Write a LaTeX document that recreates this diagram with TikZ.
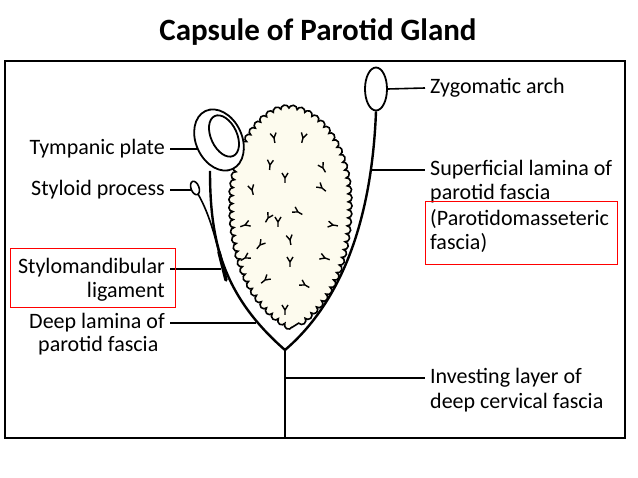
\documentclass[tikz,border=0pt]{standalone}
\usepackage{fontspec}
\setmainfont{Carlito}
\usetikzlibrary{decorations.pathmorphing,shapes.geometric}
\begin{document}
\begin{tikzpicture}[x=1pt,y=-1pt,
  lab/.style={font=\fontsize{22}{26}\selectfont,inner sep=0pt},
  lead/.style={line width=1.6pt},
  memb/.style={line width=2.4pt},
  ym/.style={line width=1.4pt}]
\useasboundingbox (0,0) rectangle (638,478);
\node[font=\bfseries\fontsize{31}{34}\selectfont] (title) at (318,32) {Capsule of Parotid Gland};
\draw[line width=2pt] (5,61) rectangle (625,438);
% gland
\draw[line width=1.6pt,fill={rgb,255:red,253;green,251;blue,238},decoration={bumps,segment length=16pt,amplitude=4pt},decorate]
 (292,327) .. controls (250,305) and (231,255) .. (233,195)
 .. controls (236,145) and (262,110) .. (288,109)
 .. controls (318,110) and (347,145) .. (348,200)
 .. controls (349,258) and (330,305) .. (292,327);
% tympanic
\draw[line width=1.8pt,fill=white,rotate around={25:(219,140)}] (219,140) ellipse (23 and 32);
\draw[line width=1.8pt,rotate around={25:(224,136)}] (224,136) ellipse (13 and 22);
% Y marks
\foreach \x/\y/\a in {274/138/10,303/138/-15,270/165/-5,323/168/30,285/178/0,252/190/15,322/188/50,268/218/-30,298/212/60,333/225/80,260/245/-40,290/240/10,245/258/-60,290/262/0,325/258/70,265/280/-50,305/285/60,285/310/0,245/225/-70,278/222/0}{
  \begin{scope}[shift={(\x,\y)},rotate=\a]
   \draw[ym] (0,5) -- (0,0) -- (-3,-5) (0,0) -- (3,-5);
  \end{scope}}
% zygomatic
\node[draw,line width=1.8pt,ellipse,minimum width=22pt,minimum height=43pt,inner sep=0pt,fill=white] (zyg) at (376,89) {};
\coordinate (jn) at (285,350);
\draw[memb] (zyg.south) .. controls (373,190) and (355,290) .. (jn);
\draw[memb] (jn) -- (285,437);
% styloid
\draw[line width=1.6pt,rotate around={20:(195,188)}] (195,188) ellipse (4 and 7);
% deep lamina
\draw[memb] (210,171) .. controls (210,240) and (222,295) .. (jn);
\draw[line width=1.6pt] (198,194) .. controls (210,215) and (216,240) .. (221,262);
\draw[line width=3.5pt,line cap=round] (219,252) -- (226,280);
% leaders
\coordinate (zl) at (425,88); \draw[lead] (zyg.east) -- (zl);
\coordinate (s1) at (371,170); \coordinate (s2) at (425,170); \draw[lead] (s1) -- (s2);
\coordinate (i1) at (285,378); \coordinate (i2) at (425,378); \draw[lead] (i1) -- (i2);
\coordinate (t1) at (170,149); \coordinate (t2) at (197,149); \draw[lead] (t1) -- (t2);
\coordinate (p1) at (170,190); \coordinate (p2) at (191,190); \draw[lead] (p1) -- (p2);
\coordinate (m1) at (170,269); \coordinate (m2) at (221,269); \draw[lead] (m1) -- (m2);
\coordinate (d1) at (170,323); \coordinate (d2) at (256,323); \draw[lead] (d1) -- (d2);
% labels
\node[lab,anchor=east] (lt) at (165,149) {Tympanic plate};
\node[lab,anchor=east] (ls) at (165,190) {Styloid process};
\node[lab,anchor=east] (lm) at (165,268) {Stylomandibular};
\node[lab,anchor=east] (lm2) at (165,292) {ligament};
\node[lab,anchor=east] (ld) at (165,323) {Deep lamina of};
\node[lab,anchor=west] (ld2) at (38,346) {parotid fascia};
\node[lab,anchor=west] (rz) at (430,88) {Zygomatic arch};
\node[lab,anchor=west] (rs) at (430,170) {Superficial lamina of};
\node[lab,anchor=west] (rs2) at (430,194) {parotid fascia};
\node[lab,anchor=west] (rs3) at (430,219) {(Parotidomasseteric};
\node[lab,anchor=west] (rs4) at (430,243) {fascia)};
\node[lab,anchor=west] (ri) at (430,378) {Investing layer of};
\node[lab,anchor=west] (ri2) at (430,403) {deep cervical fascia};
\draw[red,line width=0.8pt] (10,248) rectangle (175,307);
\draw[red,line width=0.8pt] (425,201) rectangle (617,264);
\end{tikzpicture}
\end{document}
